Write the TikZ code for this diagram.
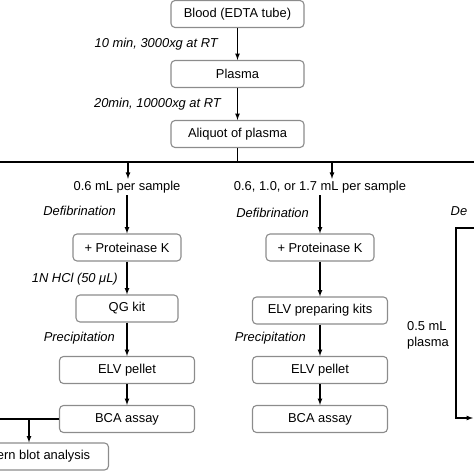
\documentclass[tikz,border=0pt]{standalone}
\usepackage{fontspec}
\setmainfont{Liberation Sans}
\usetikzlibrary{shapes.geometric, arrows}
\newcommand{\flowfont}{\fontsize{12.9}{15.5}\selectfont}
\tikzstyle{stepbox} = [rectangle, rounded corners=4pt, minimum height=27pt, text centered, draw=gray!90, line width=1.1pt]
\tikzstyle{cond} = [font=\flowfont\itshape, inner sep=0pt, anchor=east]
\tikzstyle{dose} = [inner sep=2pt]
\tikzstyle{arrow} = [line width=1.2pt,-latex]
\tikzstyle{rule} = [line width=1.2pt]

\begin{document}
\begin{tikzpicture}[x=1pt, y=1pt, node distance=60pt, font=\flowfont]
\useasboundingbox (0,0) rectangle (474,-474);
\clip (0,0) rectangle (474,-474);

\node (blood) [stepbox, minimum width=133pt] at (237.5,-14) {Blood (EDTA tube)};
\node (plasma) [stepbox, minimum width=133pt, below of=blood] {Plasma};
\node (aliquot) [stepbox, minimum width=133pt, below of=plasma] {Aliquot of plasma};

\node (spin1) [cond] at (218,-44) {10 min, 3000xg at RT};
\node (spin2) [cond] at (221,-104) {20min, 10000xg at RT};

\draw [arrow] (blood) -- (plasma);
\draw [arrow] (plasma) -- (aliquot);

% split into the columns
\coordinate (railW) at (-10,-162);
\coordinate (railE) at (490,-162);
\draw [rule] (aliquot) -- (aliquot |- railW);
\draw [rule] (railW) -- (railE);

% left column
\node (doseL) [dose] at (127,-187) {0.6 mL per sample};
\node (protL) [stepbox, minimum width=108pt] at (127,-247.5) {+ Proteinase K};
\node (qgkit) [stepbox, minimum width=102pt, below of=protL, node distance=61pt] {QG kit};
\node (pelletL) [stepbox, minimum width=135pt, below of=qgkit, node distance=61.5pt] {ELV pellet};
\node (bcaL) [stepbox, minimum width=135pt, below of=pelletL, node distance=49pt] {BCA assay};
\node (western) [stepbox, minimum width=159pt] at (29,-456.5) {Western blot analysis};

\node (defibL) [cond] at (116,-211) {Defibrination};
\node (hcl) [cond] at (118,-279) {1N HCl (50 μL)};
\node (precipL) [cond] at (115,-338) {Precipitation};

\coordinate (tapL) at (128,-162);
\coordinate (edgeW) at (-10,-419);
\draw [arrow] (tapL) -- (tapL |- doseL.north);
\draw [arrow] (doseL) -- (protL);
\draw [arrow] (protL) -- (qgkit);
\draw [arrow] (qgkit) -- (pelletL);
\draw [arrow] (pelletL) -- (bcaL);
\draw [rule] (bcaL.west) -- (edgeW);
\draw [arrow] (bcaL.west -| western.north) -- (western.north);

% middle column
\node (doseM) [dose] at (320,-187) {0.6, 1.0, or 1.7 mL per sample};
\node (protM) [stepbox, minimum width=108pt] at (320,-247.5) {+ Proteinase K};
\node (kits) [stepbox, minimum width=135pt, below of=protM, node distance=63pt] {ELV preparing kits};
\node (pelletM) [stepbox, minimum width=135pt, below of=kits, node distance=59.5pt] {ELV pellet};
\node (bcaM) [stepbox, minimum width=135pt, below of=pelletM, node distance=49pt] {BCA assay};

\node (defibM) [cond] at (309,-213) {Defibrination};
\node (precipM) [cond] at (306,-338) {Precipitation};

\coordinate (tapM) at (332,-162);
\draw [arrow] (tapM) -- (tapM |- doseM.north);
\draw [arrow] (doseM) -- (protM);
\draw [arrow] (protM) -- (kits);
\draw [arrow] (kits) -- (pelletM);
\draw [arrow] (pelletM) -- (bcaM);

% right column (cut off in the source)
\begin{scope}
\clip (440,-195) rectangle (466.5,-225);
\node (defibR) [cond, anchor=west] at (450.5,-211) {Defibrination};
\end{scope}
\node (vol) [align=left, anchor=west, inner sep=0pt] at (407,-335.5) {0.5 mL\\plasma};
\coordinate (brTopE) at (490,-228);
\coordinate (brTop) at (456,-228);
\coordinate (brBot) at (456,-418);
\coordinate (brBotE) at (473,-418);
\draw [arrow] (brTopE) -- (brTop) -- (brBot) -- (brBotE);

\end{tikzpicture}
\end{document}
